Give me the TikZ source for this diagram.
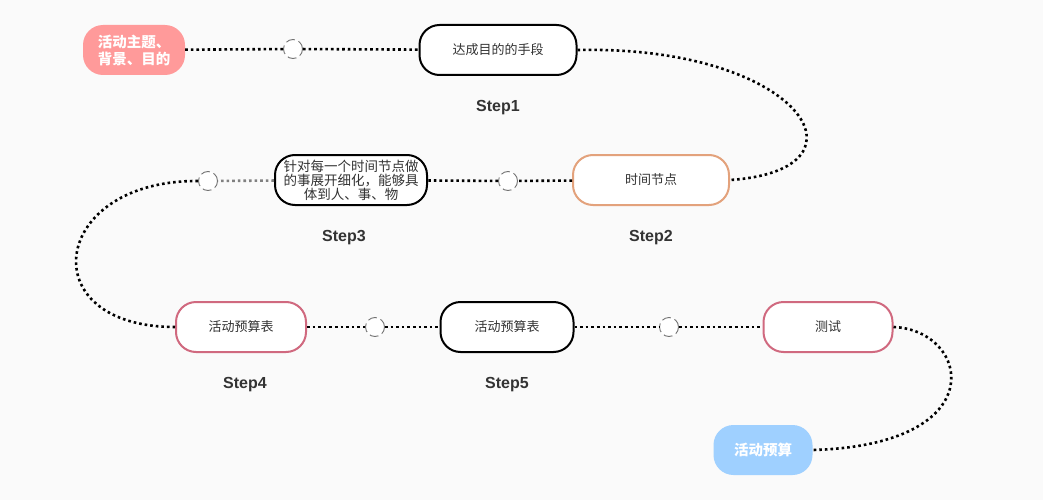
\documentclass[tikz,border=0pt]{standalone}
\usepackage{fontspec}
\setmainfont{Noto Sans CJK SC}
\newfontfamily\labelfont{Liberation Sans}
\usepackage{xcolor}
\usepackage{tikz}
\usetikzlibrary{positioning}
\definecolor{planbg}{HTML}{FAFAFA}
\definecolor{planink}{HTML}{333333}
\definecolor{startpink}{HTML}{FF9A9A}
\definecolor{endblue}{HTML}{9FD0FF}
\definecolor{timeorange}{HTML}{E3A27C}
\definecolor{budgetred}{HTML}{D0697F}

\begin{document}
\begin{tikzpicture}[x=1pt, y=-1pt,
        box/.style={draw=black, fill=white, line width=2pt, rounded corners=20pt, font=\fontsize{13}{15}\selectfont, align=center, text=planink, minimum width=152pt, minimum height=50pt, inner sep=2pt},
        endbox/.style={rounded corners=20pt, font=\fontsize{14.5}{17}\selectfont\bfseries, align=center, text=white, minimum height=50pt, inner sep=2pt},
        steplabel/.style={font=\labelfont\fontsize{16}{19}\selectfont\bfseries, text=planink},
        ring/.style={circle, draw=gray!90!black, fill=white, line width=0.9pt, dash pattern=on 9pt off 4pt, minimum size=19pt, inner sep=0pt},
        link/.style={line width=2.6pt, dash pattern=on 2.6pt off 3pt, black}
    ]
        \fill[planbg] (0,0) rectangle (1043,500);
        \useasboundingbox (0,0) rectangle (1043,500);

        % top row
        \node (theme) [endbox, fill=startpink, minimum width=102pt] at (134,50) {活动主题、\\背景、目的};
        \node (means) [box, minimum width=157pt] at (498,50) {达成目的的手段};
        \node (step1) [steplabel] at (498,108) {Step1};
        \node (c1) [ring] at (293,49) {};

        % second row
        \node (timing) [box, draw=timeorange, minimum width=156pt] at (651,180) {时间节点};
        \node (step2) [steplabel] at (651,238) {Step2};
        \node (detail) [box, font=\fontsize{13.5}{15}\selectfont] at (351,180) {针对每一个时间节点做\\[-1pt]的事展开细化，能够具\\[-1pt]体到人、事、物};
        \node (step3) [steplabel] at (344,238) {Step3};
        \node (c2) [ring] at (508,181) {};
        \node (c3) [ring] at (208,181) {};

        % third row
        \node (sheet) [box, draw=budgetred, minimum width=130pt] at (241,327) {活动预算表};
        \node (step4) [steplabel] at (245,385) {Step4};
        \node (sheet2) [box, minimum width=133pt] at (507,327) {活动预算表};
        \node (step5) [steplabel] at (507,385) {Step5};
        \node (test) [box, draw=budgetred, minimum width=129pt] at (828,327) {测试};
        \node (c4) [ring] at (375,327) {};
        \node (c5) [ring] at (669,327) {};

        \node (budget) [endbox, fill=endblue, minimum width=99pt] at (763,450) {活动预算};

        \draw [link] (theme) -- (c1) -- (means);
        \draw [link] (means.east) .. controls (800,45) and (880,170) .. (timing.east);
        \draw [link] (timing) -- (c2) -- (detail);
        \draw [link, black!50] (detail) -- (c3);
        \draw [link] (c3.west) .. controls (50,180) and (30,327) .. (sheet.west);
        \draw [link] (sheet) -- (c4) -- (sheet2) -- (c5) -- (test);
        \draw [link] (test.east) .. controls (970,330) and (995,445) .. (budget.east);
    \end{tikzpicture}
\end{document}
